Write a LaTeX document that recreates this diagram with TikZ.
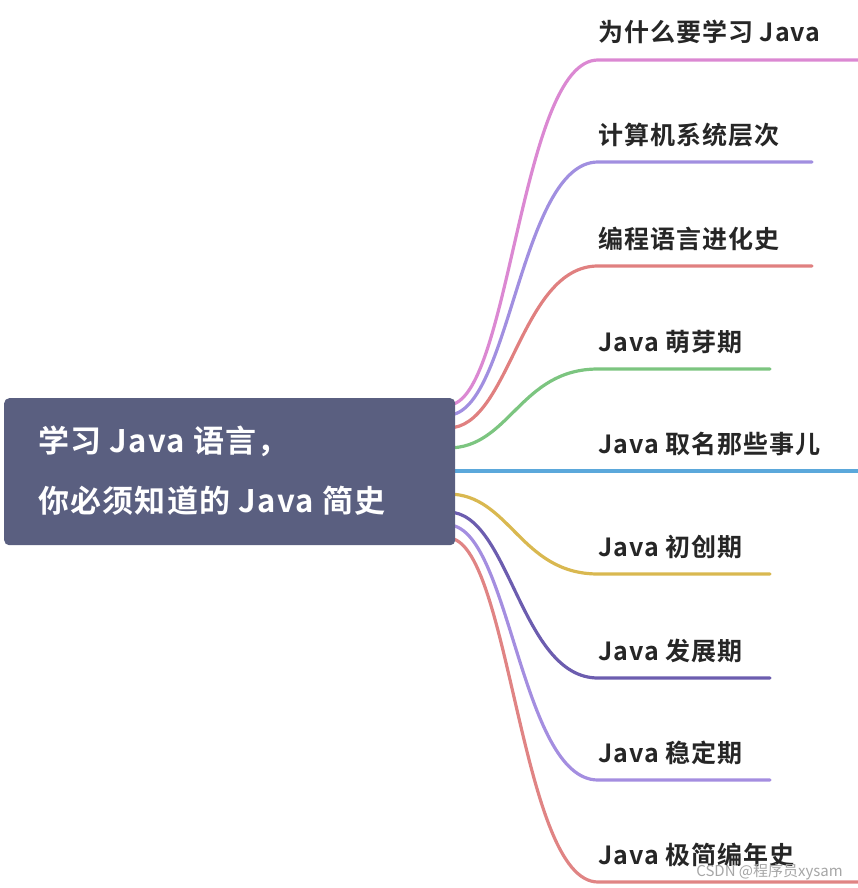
\documentclass[tikz,border=0pt]{standalone}
\usepackage{fontspec}
\newfontfamily\cjk{Noto Sans CJK SC}
\newfontfamily\cjkb[LetterSpace=4]{Noto Sans CJK SC Bold}
\begin{document}
\begin{tikzpicture}[x=1pt,y=-1pt,
  br/.style={line width=3.2pt,line cap=round},
  lab/.style={anchor=base west,font=\cjkb\fontsize{25}{28}\selectfont,text=black!85,inner sep=0pt}]
\useasboundingbox (0,0) rectangle (858,888);
\definecolor{c1}{HTML}{DB88D2}\definecolor{c2}{HTML}{A18FE0}\definecolor{c3}{HTML}{E08080}
\definecolor{c4}{HTML}{7CC580}\definecolor{c5}{HTML}{5BA8DB}\definecolor{c6}{HTML}{D9B850}
\definecolor{c7}{HTML}{6C5DAF}\definecolor{c8}{HTML}{A48EE0}\definecolor{c9}{HTML}{E08484}
\definecolor{boxc}{HTML}{5A5F80}
\foreach \y/\e/\c/\s [count=\i] in {60/858/c1/405,162/812/c2/415,266/812/c3/428,369/770/c4/448,471/858/c5/471,574/770/c6/494,678/770/c7/512,780/770/c8/525,882/858/c9/538}{
  \coordinate (s\i) at (448,\s);
  \coordinate (m\i) at (598,\y);
  \coordinate (e\i) at (\e,\y);
  \draw[br,draw=\c] (s\i) .. controls (510,\s) and (520,\y) .. (m\i) -- (e\i);
}
\node[fill=boxc,rounded corners=5pt,minimum width=451pt,minimum height=147pt,anchor=north west] (root) at (4,398) {};
\node[anchor=base west,text=white,font=\cjkb\fontsize{31}{34}\selectfont,inner sep=0pt] (r1) at (38,452) {学习 Java 语言，};
\node[anchor=base west,text=white,font=\cjkb\fontsize{31}{34}\selectfont,inner sep=0pt] (r2) at (38,512) {你必须知道的 Java 简史};
\node[lab] (t1) at (598,42) {为什么要学习 Java};
\node[lab] (t2) at (598,144) {计算机系统层次};
\node[lab] (t3) at (598,248) {编程语言进化史};
\node[lab] (t4) at (598,351) {Java 萌芽期};
\node[lab] (t5) at (598,453) {Java 取名那些事儿};
\node[lab] (t6) at (598,556) {Java 初创期};
\node[lab] (t7) at (598,660) {Java 发展期};
\node[lab] (t8) at (598,762) {Java 稳定期};
\node[lab] (t9) at (598,864) {Java 极简编年史};
\node[anchor=base east,text=black!35,font=\cjk\fontsize{15}{17}\selectfont,inner sep=0pt] (wm) at (843,876) {CSDN @程序员xysam};
\end{tikzpicture}
\end{document}
